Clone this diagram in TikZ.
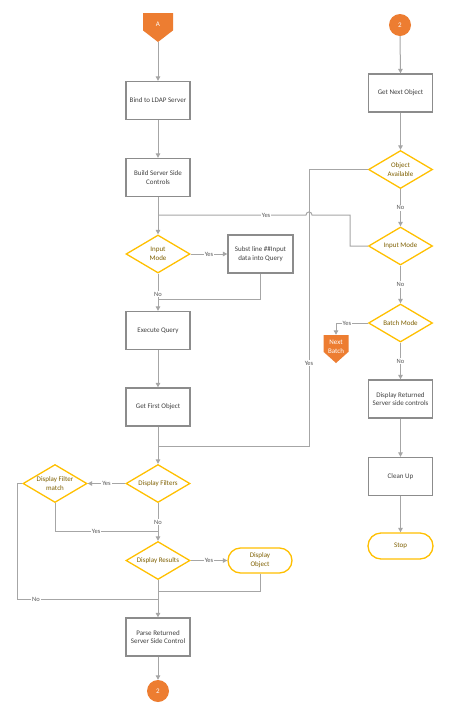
\documentclass[tikz,border=0pt]{standalone}
\usepackage{fontspec}
\setmainfont{Carlito}
\usetikzlibrary{arrows.meta,shapes.geometric,calc}
\definecolor{orng}{HTML}{ED7D31}
\definecolor{gold}{HTML}{FFC000}
\definecolor{goldtxt}{HTML}{7F6000}
\definecolor{boxline}{HTML}{8C8C8C}
\definecolor{conn}{HTML}{A6A6A6}
\definecolor{txt}{HTML}{404040}
\definecolor{lbl}{HTML}{595959}
\tikzset{
  every node/.style={font=\fontsize{7}{8.7}\selectfont, align=center},
  procbox/.style={draw=boxline, line width=1.3pt, fill=white, text=txt, minimum width=64, minimum height=38, inner sep=1pt},
  decbox/.style={diamond, draw=gold, line width=1.3pt, fill=white, text=goldtxt, minimum width=64, minimum height=38, aspect=1.7, inner sep=0pt},
  termbox/.style={draw=gold, line width=1.3pt, fill=white, text=goldtxt, rounded corners=12.5, minimum width=64, minimum height=25, inner sep=1pt},
  circ/.style={circle, fill=orng, text=white, minimum size=22, inner sep=0pt},
  pentbox/.style={text=white, inner sep=0pt, path picture={
      \fill[orng] (path picture bounding box.north west) -- (path picture bounding box.north east)
        -- ($(path picture bounding box.north east)!0.6!(path picture bounding box.south east)$)
        -- (path picture bounding box.south)
        -- ($(path picture bounding box.north west)!0.6!(path picture bounding box.south west)$) -- cycle;}},
  cn/.style={draw=conn, line width=1pt},
  arr/.style={cn, -{Triangle[length=4.5pt,width=4.5pt]}},
  lb/.style={fill=white, text=lbl, inner sep=1pt, font=\fontsize{6.5}{7}\selectfont},
}
\begin{document}
\begin{tikzpicture}[x=1pt,y=-1pt]
\fill[white] (0,0) rectangle (474,713);
\path[use as bounding box] (0,0) rectangle (474,713);

% left column
\node[pentbox, minimum width=30, minimum height=29, text depth=6pt] (A) at (158,27.5) {A};
\node[procbox] (bind) at (158,100.5) {Bind to LDAP Server};
\node[procbox] (build) at (158,177.5) {Build Server Side\\Controls};
\node[decbox] (inL) at (158,254) {Input\\Mode};
\node[procbox, minimum width=65] (subst) at (260.5,254) {Subst line \#\#Input\\data into Query};
\node[procbox] (exec) at (158,330.5) {Execute Query};
\node[procbox] (first) at (158,407) {Get First Object};
\node[decbox] (dfil) at (158,483.5) {Display Filters};
\node[decbox] (dfm) at (55,483.5) {Display Filter\\match};
\node[decbox] (dres) at (158,560.5) {Display Results};
\node[termbox] (dobj) at (260,560.5) {Display\\Object};
\node[procbox] (parse) at (158,637) {Parse Returned\\Server Side Control};
\node[circ] (c2L) at (158,691) {2};

% right column
\node[circ] (c2R) at (400,25) {2};
\node[procbox] (next) at (400.5,93) {Get Next Object};
\node[decbox] (oav) at (400.5,169.5) {Object\\Available};
\node[decbox] (inR) at (400.5,246) {Input Mode};
\node[decbox] (batch) at (400.5,323) {Batch Mode};
\node[pentbox, minimum width=25, minimum height=28, text depth=4pt] (nb) at (336,349) {Next\\Batch};
\node[procbox] (disp) at (400.5,399) {Display Returned\\Server side controls};
\node[procbox] (clean) at (400.5,476.5) {Clean Up};
\node[termbox, minimum width=65, minimum height=26, rounded corners=13] (stop) at (400.5,546) {Stop};

% junction coordinates
\coordinate (j1) at (158,215);
\coordinate (j2) at (158,299);
\coordinate (j3) at (158,446);
\coordinate (j4) at (158,531);
\coordinate (j5) at (158,591);
\coordinate (j6) at (158,599);
\coordinate (h1) at (312,215);
\coordinate (h2) at (306,215);
\coordinate (r1) at (350,246);
\coordinate (r2) at (350,215);
\coordinate (o1) at (309,169.5);
\coordinate (o2) at (309,446);
\coordinate (f1) at (17,483.5);

% left connectors
\draw[arr] (A.south) -- (bind.north);
\draw[arr] (bind.south) -- (build.north);
\draw[arr] (build.south) -- (inL.north);
\draw[arr] (inL.east) -- node[lb]{Yes} (subst.west);
\draw[arr] (inL.south) -- node[lb, pos=0.55]{No} (exec.north);
\draw[cn] (subst.south) |- (j2);
\draw[arr] (exec.south) -- (first.north);
\draw[arr] (first.south) -- (dfil.north);
\draw[arr] (dfil.west) -- node[lb]{Yes} (dfm.east);
\draw[cn] (dfm.south) |- node[lb, pos=0.70]{Yes} (j4);
\draw[arr] (dfil.south) -- node[lb, pos=0.5]{No} (dres.north);
\draw[arr] (dres.east) -- node[lb]{Yes} (dobj.west);
\draw[cn] (dobj.south) |- (j5);
\draw[cn] (dfm.west) -- (f1) |- node[lb, pos=0.567]{No} (j6);
\draw[arr] (dres.south) -- (parse.north);
\draw[arr] (parse.south) -- (c2L.north);

% right connectors
\draw[arr] (c2R.south) -- (next.north);
\draw[arr] (next.south) -- (oav.north);
\draw[arr] (oav.south) -- node[lb]{No} (inR.north);
\draw[arr] (inR.south) -- node[lb]{No} (batch.north);
\draw[arr] (batch.south) -- node[lb]{No} (disp.north);
\draw[arr] (disp.south) -- (clean.north);
\draw[arr] (clean.south) -- (stop.north);
\draw[arr] (batch.west) -| node[lb, pos=0.33]{Yes} (nb.north);
\draw[cn] (oav.west) -- (o1) -- node[lb, pos=0.7]{Yes} (o2) -- (j3);
\draw[cn] (inR.west) -- (r1) -- (r2) -- (h1) .. controls (312,211) and (306,211) .. (h2) -- node[lb, pos=0.27]{Yes} (j1);
\end{tikzpicture}
\end{document}
